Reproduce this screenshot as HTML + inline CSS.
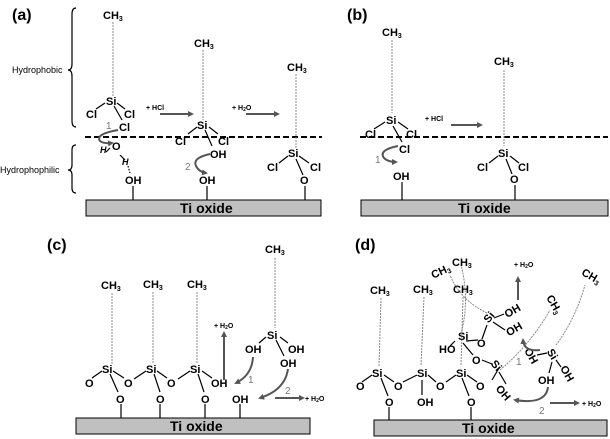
<!DOCTYPE html>
<html><head><meta charset="utf-8"><style>
html,body{margin:0;padding:0;background:#fff}
svg{display:block}
text{font-family:"Liberation Sans",Arial,sans-serif;font-weight:bold;fill:#000}
.t{font-size:11px}
.s{font-size:7px}
.n{font-size:9px;font-weight:normal}
.lab{font-size:16px}
.g{font-size:10px;font-weight:normal;fill:#777}
.ch{stroke:#888;stroke-width:1;fill:none;stroke-dasharray:2 1}
.b{stroke:#000;stroke-width:1.2;fill:none}
.a{stroke:#555;stroke-width:2;fill:none}
.ti{font-size:14px}
</style></head><body>
<svg width="610" height="439" viewBox="0 0 610 439" xmlns="http://www.w3.org/2000/svg">
<defs><marker id="ah" markerWidth="6" markerHeight="6" refX="4" refY="3" orient="auto" markerUnits="userSpaceOnUse"><path d="M0,0 L6,3 L0,6z" fill="#555"/></marker></defs>

<!-- (a) -->
<text x="12" y="20" class="lab">(a)</text>
<path d="M76,8 Q72,8 72,14 L72,64 Q72,70 68,70 Q72,70 72,76 L72,121 Q72,127 76,127" class="b" stroke-width="0.8"/>
<path d="M76,145 Q72,145 72,150 L72,165 Q72,170 68,170 Q72,170 72,175 L72,188 Q72,193 76,193" class="b" stroke-width="0.8"/>
<text x="12" y="73" class="n">Hydrophobic</text>
<text x="0" y="173" class="n">Hydrophophilic</text>
<line x1="85" y1="137" x2="322" y2="137" stroke="#000" stroke-width="2" stroke-dasharray="6 3"/>
<rect x="86" y="200" width="235" height="16" fill="#c0c0c0" stroke="#000" stroke-width="1"/>
<text x="180" y="213" class="ti">Ti oxide</text>

<line x1="113" y1="22" x2="113" y2="97" class="ch"/>
<text x="103" y="19" class="t">CH<tspan class="s" dy="2">3</tspan></text>
<text x="106" y="105" class="t">Si</text>
<text x="86" y="118" class="t">Cl</text><text x="124" y="118" class="t">Cl</text><text x="119" y="131" class="t">Cl</text>
<line x1="105" y1="103" x2="96" y2="109" class="b"/><line x1="117" y1="103" x2="125" y2="109" class="b"/><line x1="114" y1="106" x2="122" y2="120" class="b"/>
<path d="M118,130 Q95,134 100,141 Q104,144 112,143" class="a" marker-end="url(#ah)" stroke-width="1.5"/>
<text x="106" y="129" class="g">1</text>
<text x="100" y="153" class="t" style="font-size:9px;font-style:italic">H</text><text x="112" y="150" class="t">O</text>
<line x1="106" y1="152" x2="110" y2="148" class="b" stroke-width="0.8"/>
<text x="122" y="165" class="t" style="font-size:9px;font-style:italic">H</text>
<line x1="120" y1="155" x2="125" y2="160" class="b" stroke-width="0.8"/>
<line x1="128" y1="166" x2="130" y2="173" class="b" stroke-dasharray="1.5 1.5"/>
<text x="125" y="184" class="t">OH</text>
<line x1="133" y1="186" x2="133" y2="200" class="b" stroke-width="1.5"/>
<text x="146" y="110" class="s">+ HCl</text>
<line x1="160" y1="114" x2="192" y2="114" class="a" marker-end="url(#ah)"/>

<line x1="203" y1="50" x2="203" y2="120" class="ch"/>
<text x="194" y="47" class="t">CH<tspan class="s" dy="2">3</tspan></text>
<text x="197" y="129" class="t">Si</text>
<text x="175" y="145" class="t">Cl</text><text x="218" y="145" class="t">Cl</text>
<line x1="197" y1="127" x2="188" y2="134" class="b"/><line x1="209" y1="127" x2="218" y2="134" class="b"/><line x1="205" y1="130" x2="212" y2="146" class="b"/>
<text x="210" y="158" class="t">OH</text>
<path d="M210,154 Q192,158 196,166 Q199,172 206,173" class="a" marker-end="url(#ah)" stroke-width="1.5"/>
<text x="185" y="170" class="g">2</text>
<text x="199" y="184" class="t">OH</text>
<line x1="207" y1="186" x2="207" y2="200" class="b" stroke-width="1.5"/>
<text x="232" y="110" class="s">+ H<tspan dy="1" style="font-size:5px">2</tspan><tspan dy="-1">O</tspan></text>
<line x1="246" y1="114" x2="278" y2="114" class="a" marker-end="url(#ah)"/>

<line x1="296" y1="74" x2="296" y2="148" class="ch"/>
<text x="287" y="71" class="t">CH<tspan class="s" dy="2">3</tspan></text>
<text x="288" y="157" class="t">Si</text>
<text x="267" y="171" class="t">Cl</text><text x="310" y="171" class="t">Cl</text>
<line x1="288" y1="156" x2="279" y2="163" class="b"/><line x1="299" y1="156" x2="309" y2="163" class="b"/><line x1="296" y1="159" x2="303" y2="175" class="b"/>
<text x="300" y="184" class="t">O</text>
<line x1="305" y1="186" x2="305" y2="200" class="b" stroke-width="1.5"/>

<!-- (b) -->
<text x="347" y="20" class="lab">(b)</text>
<line x1="360" y1="137" x2="608" y2="137" stroke="#000" stroke-width="2" stroke-dasharray="6 3"/>
<rect x="361" y="200" width="247" height="16" fill="#c0c0c0" stroke="#000" stroke-width="1"/>
<text x="458" y="213" class="ti">Ti oxide</text>
<line x1="392" y1="40" x2="392" y2="113" class="ch"/>
<text x="382" y="36" class="t">CH<tspan class="s" dy="2">3</tspan></text>
<text x="386" y="124" class="t">Si</text>
<text x="365" y="138" class="t">Cl</text><text x="406" y="138" class="t">Cl</text><text x="399" y="153" class="t">Cl</text>
<line x1="385" y1="122" x2="374" y2="129" class="b"/><line x1="398" y1="122" x2="408" y2="129" class="b"/><line x1="393" y1="126" x2="402" y2="142" class="b"/>
<path d="M398,146 Q378,150 384,158 Q388,162 396,162" class="a" marker-end="url(#ah)" stroke-width="1.5"/>
<text x="375" y="163" class="g">1</text>
<text x="393" y="180" class="t">OH</text>
<line x1="402" y1="182" x2="402" y2="200" class="b" stroke-width="1.5"/>
<text x="425" y="121" class="s">+ HCl</text>
<line x1="451" y1="125" x2="481" y2="125" class="a" marker-end="url(#ah)"/>
<line x1="504" y1="70" x2="504" y2="146" class="ch"/>
<text x="494" y="65" class="t">CH<tspan class="s" dy="2">3</tspan></text>
<text x="498" y="157" class="t">Si</text>
<text x="477" y="171" class="t">Cl</text><text x="518" y="171" class="t">Cl</text>
<line x1="498" y1="156" x2="489" y2="163" class="b"/><line x1="510" y1="156" x2="519" y2="163" class="b"/><line x1="506" y1="159" x2="512" y2="174" class="b"/>
<text x="510" y="183" class="t">O</text>
<line x1="515" y1="185" x2="515" y2="200" class="b" stroke-width="1.5"/>

<!-- (c) -->
<text x="47" y="250" class="lab">(c)</text>
<rect x="76" y="418" width="234" height="16" fill="#c0c0c0" stroke="#000" stroke-width="1"/>
<text x="170" y="431" class="ti">Ti oxide</text>
<line x1="112" y1="293" x2="112" y2="364" class="ch"/>
<line x1="153" y1="292" x2="153" y2="364" class="ch"/>
<line x1="197" y1="292" x2="197" y2="364" class="ch"/>
<text x="101" y="289" class="t">CH<tspan class="s" dy="2">3</tspan></text>
<text x="143" y="288" class="t">CH<tspan class="s" dy="2">3</tspan></text>
<text x="187" y="288" class="t">CH<tspan class="s" dy="2">3</tspan></text>
<text x="102" y="373" class="t">Si</text><text x="146" y="373" class="t">Si</text><text x="190" y="373" class="t">Si</text>
<text x="85" y="387" class="t">O</text><text x="124" y="387" class="t">O</text><text x="167" y="387" class="t">O</text><text x="211" y="387" class="t">OH</text>
<text x="116" y="403" class="t">O</text><text x="156" y="403" class="t">O</text><text x="201" y="403" class="t">O</text><text x="232" y="403" class="t">OH</text>
<path d="M92,378 L102,371 M113,371 L124,378 M134,379 L146,371 M157,371 L167,378 M178,379 L190,371 M202,371 L212,378 M110,374 L118,392 M154,374 L160,392 M198,374 L204,392" class="b"/>
<line x1="121" y1="404" x2="121" y2="418" class="b" stroke-width="1.5"/>
<line x1="160" y1="404" x2="160" y2="418" class="b" stroke-width="1.5"/>
<line x1="205" y1="404" x2="205" y2="418" class="b" stroke-width="1.5"/>
<line x1="240" y1="404" x2="240" y2="418" class="b" stroke-width="1.5"/>
<text x="214" y="328" class="s">+ H<tspan dy="1" style="font-size:5px">2</tspan><tspan dy="-1">O</tspan></text>
<line x1="224" y1="380" x2="224" y2="333" class="a" marker-end="url(#ah)"/>
<line x1="275" y1="258" x2="275" y2="328" class="ch"/>
<text x="265" y="253" class="t">CH<tspan class="s" dy="2">3</tspan></text>
<text x="267" y="339" class="t">Si</text>
<text x="245" y="353" class="t">OH</text><text x="288" y="353" class="t">OH</text><text x="280" y="367" class="t">OH</text>
<path d="M266,337 L259,343 M280,337 L288,343 M276,340 L284,356" class="b"/>
<path d="M253,357 Q252,375 236,383" class="a" marker-end="url(#ah)" stroke-width="1.5"/>
<text x="248" y="383" class="g">1</text>
<path d="M288,369 Q285,390 260,398" class="a" marker-end="url(#ah)" stroke-width="1.5"/>
<text x="285" y="394" class="g">2</text>
<line x1="275" y1="398" x2="303" y2="398" class="a" marker-end="url(#ah)"/>
<text x="305" y="401" class="s">+ H<tspan dy="1" style="font-size:5px">2</tspan><tspan dy="-1">O</tspan></text>

<!-- (d) -->
<text x="355" y="250" class="lab">(d)</text>
<rect x="374" y="420" width="233" height="16" fill="#c0c0c0" stroke="#000" stroke-width="1"/>
<text x="462" y="433" class="ti">Ti oxide</text>
<line x1="381" y1="298" x2="379" y2="366" class="ch"/>
<line x1="424" y1="297" x2="421" y2="366" class="ch"/>
<line x1="463" y1="297" x2="461" y2="366" class="ch"/>
<text x="370" y="294" class="t">CH<tspan class="s" dy="2">3</tspan></text>
<text x="413" y="293" class="t">CH<tspan class="s" dy="2">3</tspan></text>
<text x="453" y="293" class="t">CH<tspan class="s" dy="2">3</tspan></text>
<text x="372" y="377" class="t">Si</text><text x="417" y="377" class="t">Si</text><text x="456" y="377" class="t">Si</text>
<text x="356" y="390" class="t">O</text><text x="394" y="390" class="t">O</text><text x="436" y="390" class="t">O</text><text x="476" y="390" class="t">O</text>
<text x="385" y="406" class="t">O</text><text x="417" y="406" class="t">OH</text><text x="467" y="406" class="t">O</text>
<path d="M362,382 L372,375 M384,375 L394,382 M403,382 L417,375 M428,375 L436,382 M446,382 L456,375 M467,375 L477,382 M381,378 L388,396 M422,380 L422,395 M462,378 L469,396" class="b"/>
<line x1="389" y1="407" x2="389" y2="420" class="b" stroke-width="1.5"/>
<line x1="471" y1="407" x2="471" y2="420" class="b" stroke-width="1.5"/>
<text x="458" y="340" class="t">Si</text><text x="439" y="353" class="t">HO</text><text x="477" y="347" class="t">O</text>
<text x="472" y="364" class="t">O</text>
<text x="491" y="368" class="t" transform="rotate(50 495 365)">Si</text>
<text x="496" y="393" class="t" transform="rotate(50 500 390)">OH</text>
<text x="484" y="322" class="t" transform="rotate(-50 488 318)">Si</text>
<text x="505" y="316" class="t" transform="rotate(-30 510 313)">OH</text>
<text x="506" y="334" class="t" transform="rotate(-30 512 330)">OH</text>
<path d="M455,341 L450,346 M466,341 L478,340 M463,343 L473,355 M482,360 L492,364 M482,339 L487,325 M494,318 L504,314 M493,322 L505,330 M499,368 L492,380 M499,372 L506,384" class="b"/>
<path d="M487,313 Q460,300 450,275" class="ch"/>
<path d="M461,334 Q470,300 461,265" class="ch"/>
<text x="430" y="276" class="t" transform="rotate(-25 438 270)">CH<tspan class="s" dy="2">3</tspan></text>
<text x="452" y="266" class="t">CH<tspan class="s" dy="2">3</tspan></text>
<text x="514" y="267" class="s">+ H<tspan dy="1" style="font-size:5px">2</tspan><tspan dy="-1">O</tspan></text>
<line x1="518" y1="300" x2="518" y2="278" class="a" marker-end="url(#ah)"/>
<path d="M500,370 Q530,345 550,310" class="ch"/>
<path d="M556,345 Q575,320 585,285" class="ch"/>
<text x="547" y="304" class="t" transform="rotate(60 552 300)">CH<tspan class="s" dy="2">3</tspan></text>
<text x="582" y="278" class="t" transform="rotate(30 588 274)">CH<tspan class="s" dy="2">3</tspan></text>
<text x="548" y="357" class="t" transform="rotate(60 552 353)">Si</text>
<text x="523" y="358" class="t" transform="rotate(60 530 355)">OH</text>
<text x="560" y="374" class="t" transform="rotate(60 565 371)">OH</text>
<text x="538" y="384" class="t">OH</text>
<path d="M537,355 L547,353 M556,360 L561,367 M552,362 L549,373" class="b"/>
<path d="M540,350 Q524,352 523,340" class="a" marker-end="url(#ah)" stroke-width="1.5"/>
<text x="516" y="365" class="g">1</text>
<path d="M548,387 Q546,405 515,400" class="a" marker-end="url(#ah)" stroke-width="1.5"/>
<text x="539" y="414" class="g">2</text>
<line x1="550" y1="403" x2="578" y2="403" class="a" marker-end="url(#ah)"/>
<text x="582" y="406" class="s">+ H<tspan dy="1" style="font-size:5px">2</tspan><tspan dy="-1">O</tspan></text>
</svg>
</body></html>
